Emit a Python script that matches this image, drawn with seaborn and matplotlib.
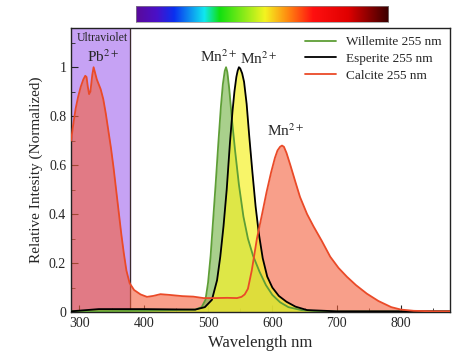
import numpy as np
import pandas as pd
import seaborn as sns
import matplotlib.pyplot as plt
from matplotlib.colors import LinearSegmentedColormap

# spectra (wavelength nm, normalized intensity)
calcite_wl = [287, 290, 294, 298, 302, 306, 309, 311, 313, 315, 317, 320, 322, 324, 327, 330, 333,
              337, 341, 345, 349, 353, 357, 361, 365, 369, 373, 378,
              385, 395, 405, 415, 426, 440, 460, 477, 493, 510, 530, 545, 552, 557, 562, 568,
              576, 584, 591, 598, 604, 608, 612, 615, 618, 622, 628, 636, 643, 654, 664, 677, 690, 703,
              716, 730, 747, 765, 785, 800, 820, 850, 876]
calcite_val = [0.70, 0.76, 0.83, 0.88, 0.92, 0.95, 0.965, 0.96, 0.92, 0.89, 0.90, 0.97, 1.0, 0.98, 0.95, 0.93, 0.91,
               0.87, 0.81, 0.74, 0.67, 0.59, 0.50, 0.41, 0.32, 0.24, 0.17, 0.118,
               0.09, 0.072, 0.062, 0.066, 0.073, 0.07, 0.065, 0.063, 0.057, 0.057, 0.058, 0.057, 0.062, 0.072, 0.095, 0.17,
               0.30, 0.40, 0.49, 0.57, 0.63, 0.66, 0.675, 0.68, 0.675, 0.65, 0.60, 0.53, 0.47, 0.40, 0.35, 0.29, 0.226, 0.18,
               0.144, 0.11, 0.075, 0.045, 0.02, 0.01, 0.005, 0.003, 0.003]

willemite_wl = [287, 400, 480, 490, 496, 500, 504, 508, 512, 516, 520, 523, 526, 528, 530, 533, 537,
                542, 548, 555, 562, 570, 580, 590, 600, 612, 625, 645, 670, 700, 876]
willemite_val = [0.003, 0.005, 0.01, 0.02, 0.05, 0.12, 0.23, 0.38, 0.53, 0.69, 0.84, 0.93, 0.985, 1.0, 0.98, 0.91, 0.79,
                 0.66, 0.52, 0.39, 0.30, 0.23, 0.165, 0.11, 0.07, 0.04, 0.02, 0.008, 0.003, 0.002, 0.002]

esperite_wl = [287, 330, 400, 480, 495, 506, 514, 519, 524, 529, 534, 538, 541, 544, 546, 548, 550, 553,
               556, 560, 564, 569, 574, 579, 585, 592, 600, 610, 622, 636, 654, 700, 876]
esperite_val = [0.003, 0.012, 0.012, 0.01, 0.02, 0.05, 0.13, 0.226, 0.35, 0.5, 0.69, 0.82, 0.90, 0.96, 0.985, 1.0, 0.995, 0.975,
                0.94, 0.85, 0.72, 0.57, 0.43, 0.32, 0.22, 0.145, 0.10, 0.066, 0.042, 0.022, 0.008, 0.003, 0.003]

series = [
    ("Willemite 255 nm", willemite_wl, willemite_val, "#5e9e36", "#7cb84e", 0.65),
    ("Esperite 255 nm", esperite_wl, esperite_val, "black", "#f6f22a", 0.7),
    ("Calcite 255 nm", calcite_wl, calcite_val, "#ea4a28", "#f4603c", 0.6),
]

sns.set_style("ticks")
plt.rcParams['font.family'] = ['Liberation Serif', 'DejaVu Serif']
plt.rcParams['mathtext.fontset'] = 'stix'

fig = plt.figure(figsize=(4.74, 3.55), dpi=100)
ax = fig.add_axes([0.150, 0.121, 0.799, 0.800])

# ultraviolet band
ax.axvspan(287, 378, color="#c6a2f4", zorder=0)
ax.axvline(378, color="#3a2a2a", lw=0.9, zorder=1)

# fills first (calcite at the back), then lines
for name, wl, val, lc, fc, a in [series[2], series[0], series[1]]:
    ax.fill_between(wl, 0, val, color=fc, alpha=a, lw=0, zorder=2)

for name, wl, val, lc, fc, a in series:
    df = pd.DataFrame({"wl": wl, "val": val})
    sns.lineplot(data=df, x="wl", y="val", color=lc, lw=1.3, ax=ax, label=name, zorder=3)

ax.set_xlim(287, 876)
ax.set_ylim(0, 1.16)
ax.set_xticks([300, 400, 500, 600, 700, 800])
ax.set_xticks(np.arange(350, 876, 100), minor=True)
ax.set_yticks([0, 0.2, 0.4, 0.6, 0.8, 1.0])
ax.set_yticklabels(["0", "0.2", "0.4", "0.6", "0.8", "1"])
ax.set_yticks(np.arange(0.1, 1.15, 0.2), minor=True)
ax.tick_params(direction="in", which="both", labelsize=10, top=False, right=False)
ax.tick_params(which="major", length=5)
ax.tick_params(which="minor", length=3)
for s in ax.spines.values():
    s.set_linewidth(1.0)
    s.set_color("#222222")

ax.set_xlabel("Wavelength nm", fontsize=12)
ax.set_ylabel("Relative Intesity (Normalized)", fontsize=11)

ax.text(296, 1.118, "Ultraviolet", fontsize=8.5, ha="left", va="center")
ax.text(336, 1.045, "Pb$^{2+}$", fontsize=11, ha="center", va="center")
ax.text(516, 1.045, "Mn$^{2+}$", fontsize=11, ha="center", va="center")
ax.text(578, 1.035, "Mn$^{2+}$", fontsize=11, ha="center", va="center")
ax.text(620, 0.74, "Mn$^{2+}$", fontsize=11, ha="center", va="center")

ax.legend(loc="upper right", frameon=False, fontsize=9.5, handlelength=2.3,
          bbox_to_anchor=(1.0, 1.0), borderaxespad=0.2, labelspacing=0.35)

# visible spectrum bar on top
spec = LinearSegmentedColormap.from_list("spec", [
    (0.0, "#5a0a9a"), (0.08, "#4a10c8"), (0.15, "#0a30f0"), (0.27, "#10e8f0"),
    (0.33, "#10e010"), (0.51, "#f4f420"), (0.60, "#ff8a10"), (0.70, "#ff1010"),
    (0.84, "#e00000"), (1.0, "#3a0000")])
cax = fig.add_axes([0.287, 0.938, 0.532, 0.045])
cax.imshow(np.linspace(0, 1, 256)[None, :], aspect="auto", cmap=spec)
cax.set_xticks([])
cax.set_yticks([])
for s in cax.spines.values():
    s.set_linewidth(0.5)
    s.set_color("#888888")

plt.savefig("out.png", dpi=100)
